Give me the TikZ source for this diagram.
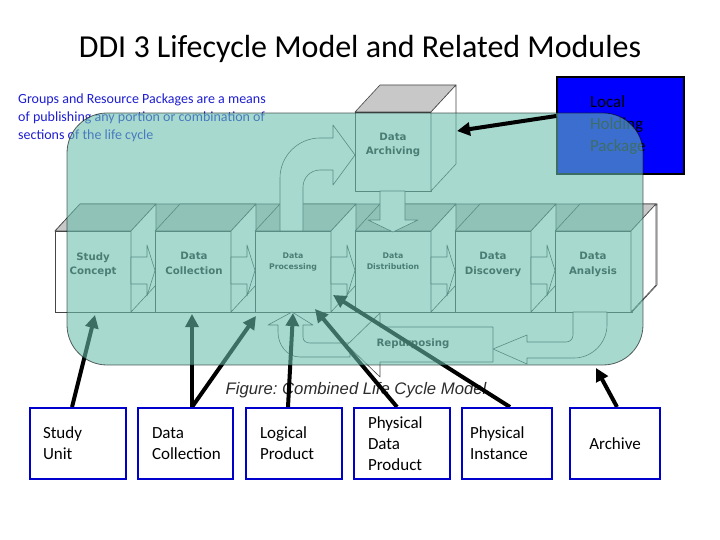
\documentclass[tikz,border=0pt]{standalone}
\usepackage{fontspec}
\setmainfont{Carlito}
\newfontfamily\figfont{DejaVu Sans}
\newfontfamily\capfont{Liberation Sans}
\usetikzlibrary{arrows.meta}
\frenchspacing
\definecolor{overlayteal}{RGB}{104,191,174}
\definecolor{boxblue}{RGB}{0,0,204}
\definecolor{notetext}{RGB}{30,30,210}
\definecolor{cubegray}{RGB}{200,200,200}
\definecolor{figline}{RGB}{70,70,70}
\definecolor{figtext}{RGB}{35,35,35}
\definecolor{captext}{RGB}{45,45,45}
\newcommand\cubesides[1]{%
  \draw[topface] (#1.north west) -- ([shift={(25,-27)}]#1.north west) -- ([shift={(25,-27)}]#1.north east) -- (#1.north east) -- cycle;
  \draw[face] (#1.north east) -- ([shift={(25,-27)}]#1.north east) -- ([shift={(25,-27)}]#1.south east) -- (#1.south east) -- cycle;}
\begin{document}
\begin{tikzpicture}[x=1pt,y=-1pt,
  figedge/.style={draw=figline, line width=0.6pt, line join=round},
  face/.style={figedge, fill=white},
  topface/.style={figedge, fill=cubegray},
  cubefront/.style={face, minimum width=76pt, minimum height=81pt, inner sep=0pt, outer sep=0pt},
  cubelabel/.style={font=\figfont\bfseries\fontsize{10.2}{14.5}\selectfont, text=figtext, align=center, inner sep=0pt},
  smalllabel/.style={font=\figfont\bfseries\fontsize{7.8}{11}\selectfont},
  ptr/.style={draw=black, line width=4pt, -{Triangle[length=13pt,width=13pt]}},
  modbox/.style={draw=boxblue, line width=2pt, fill=white, minimum height=71pt, inner ysep=0pt, align=left, font=\fontsize{17}{21}\selectfont},
]
\useasboundingbox (0,0) rectangle (720,540);
\fill[white] (0,0) rectangle (720,540);

% ---- life cycle figure ----
\draw[face] (55,231) rectangle (632,312);
\draw[topface] (55,231) -- (80,204) -- (657,204) -- (632,231) -- cycle;
\draw[face] (632,231) -- (657,204) -- (657,285) -- (632,312) -- cycle;

\foreach \n/\x in {sc/93, dc/193, dp/293, dd/393, dv/493, da/593} {
  \node[cubefront] (\n) at (\x,271.5) {};
  \cubesides{\n}
}
\foreach \a in {55,155,255,355,455} {
  \draw[face] ({\a+76},257) -- ({\a+92},257) -- ({\a+92},245) -- ({\a+100},270.5) -- ({\a+92},296) -- ({\a+92},284) -- ({\a+76},284) -- cycle;
}
\node[cubefront, minimum height=79pt] (arc) at (393,151.5) {};
\cubesides{arc}
\draw[face] (380,191) -- (405,191) -- (405,220) -- (418,220) -- (393,232) -- (368,220) -- (380,220) -- cycle;
\draw[face] (280,231) -- (280,178) .. controls (280,156) and (298,138) .. (320,138) -- (333,138) -- (333,125) -- (355,155) -- (333,185) -- (333,170) -- (320,170) .. controls (310.6,170) and (303,177.6) .. (303,187) -- (303,231) -- cycle;
\draw[face] (607,312) -- (607,325) .. controls (607,343) and (592,358) .. (574,358) -- (527,358) -- (527,364) -- (493,349) -- (527,335) -- (527,342) -- (566,342) .. controls (570,342) and (573,339) .. (573,335) -- (573,312) -- cycle;
\draw[face] (350,357) -- (300,357) .. controls (287,357) and (278,345) .. (278,332) -- (278,325) -- (268,325) -- (292,312) -- (313,325) -- (303,325) -- (303,337) .. controls (303,341) and (306,343) .. (310,343) -- (350,343) -- cycle;
\draw[face] (493,327) -- (380,327) -- (380,313) -- (347,345) -- (380,377) -- (380,362) -- (493,362) -- cycle;

\node[cubelabel] (sc-l) at (93,264.5) {Study\\Concept};
\node[cubelabel] (dc-l) at (194,263.5) {Data\\Collection};
\node[cubelabel, smalllabel] (dp-l) at (293,262) {Data\\Processing};
\node[cubelabel, smalllabel] (dd-l) at (393,261) {Data\\Distribution};
\node[cubelabel] (dv-l) at (493,264.5) {Data\\Discovery};
\node[cubelabel] (da-l) at (593,264.5) {Data\\Analysis};
\node[cubelabel] (arc-l) at (393,145) {Data\\Archiving};
\node[cubelabel] (rp-l) at (413,344) {Repurposing};

\node[font=\capfont\itshape\fontsize{16.7}{19}\selectfont, text=captext, anchor=base] (cap) at (356,394) {Figure: Combined Life Cycle Model};

% ---- module boxes (placed now, drawn again on top later) ----
\path
  node[modbox, minimum width=96pt, text width=70pt, inner xsep=13pt] (su) at (78,443.5) {Study\\Unit}
  node[modbox, minimum width=95pt, text width=67pt, inner xsep=14pt] (dcm) at (185.5,443.5) {Data\\Collection}
  node[modbox, minimum width=96pt, text width=68pt, inner xsep=14pt] (lp) at (294,443.5) {Logical\\Product}
  node[modbox, minimum width=96pt, text width=68pt, inner xsep=14pt] (pdp) at (402,443.5) {Physical\\Data\\Product}
  node[modbox, minimum width=90pt, text width=74pt, inner xsep=8pt] (pi) at (507,443.5) {Physical\\Instance}
  node[modbox, minimum width=90pt, text width=74pt, inner xsep=8pt, align=center] (arv) at (615,443.5) {Archive};

\coordinate (tSU) at (95,315);
\coordinate (tDC1) at (192,314);
\coordinate (tDC2) at (256,316);
\coordinate (tLP) at (293,313);
\coordinate (tPDP) at (315,309);
\coordinate (tPI) at (333,295);
\coordinate (tAR) at (596,368);
\coordinate (tLHP) at (457,131);

\draw[ptr] ([xshift=-6pt]su.north) -- (tSU);
\draw[ptr] ([xshift=6.5pt]dcm.north) -- (tDC1);
\draw[ptr] ([xshift=6.5pt]dcm.north) -- (tDC2);
\draw[ptr] ([xshift=-6pt]lp.north) -- (tLP);
\draw[ptr] ([xshift=-5pt]pdp.north) -- (tPDP);
\draw[ptr] ([xshift=3pt]pi.north) -- (tPI);
\draw[ptr] ([xshift=2pt]arv.north) -- (tAR);

% ---- note and local holding package ----
\node[font=\fontsize{14}{18}\selectfont, text=notetext, align=left, anchor=north west, inner sep=0pt] (note) at (18,94) {Groups and Resource Packages are a means\\of publishing any portion or combination of\\sections of the life cycle};
\node[draw=black, line width=1.5pt, fill=blue, minimum width=127pt, minimum height=97pt, inner ysep=0pt, inner xsep=33pt, text width=61pt, align=left, font=\fontsize{17}{22}\selectfont] (lhp) at (620.5,125.5) {Local\\Holding\\Package};

% ---- translucent group overlay ----
\draw[draw=black, draw opacity=0.6, line width=0.8pt, fill=overlayteal, fill opacity=0.58, rounded corners=40pt] (67,113) rectangle (643,365);

\draw[ptr] ([yshift=9.5pt]lhp.west) -- (tLHP);

% ---- title ----
\node[font=\fontsize{32}{38}\selectfont, anchor=base] (title) at (360,58) {DDI 3 Lifecycle Model and Related Modules};

% ---- module boxes drawn on top ----
\path
  node[modbox, minimum width=96pt, text width=70pt, inner xsep=13pt] at (su) {Study\\Unit}
  node[modbox, minimum width=95pt, text width=67pt, inner xsep=14pt] at (dcm) {Data\\Collection}
  node[modbox, minimum width=96pt, text width=68pt, inner xsep=14pt] at (lp) {Logical\\Product}
  node[modbox, minimum width=96pt, text width=68pt, inner xsep=14pt] at (pdp) {Physical\\Data\\Product}
  node[modbox, minimum width=90pt, text width=74pt, inner xsep=8pt] at (pi) {Physical\\Instance}
  node[modbox, minimum width=90pt, text width=74pt, inner xsep=8pt, align=center] at (arv) {Archive};
\end{tikzpicture}
\end{document}
